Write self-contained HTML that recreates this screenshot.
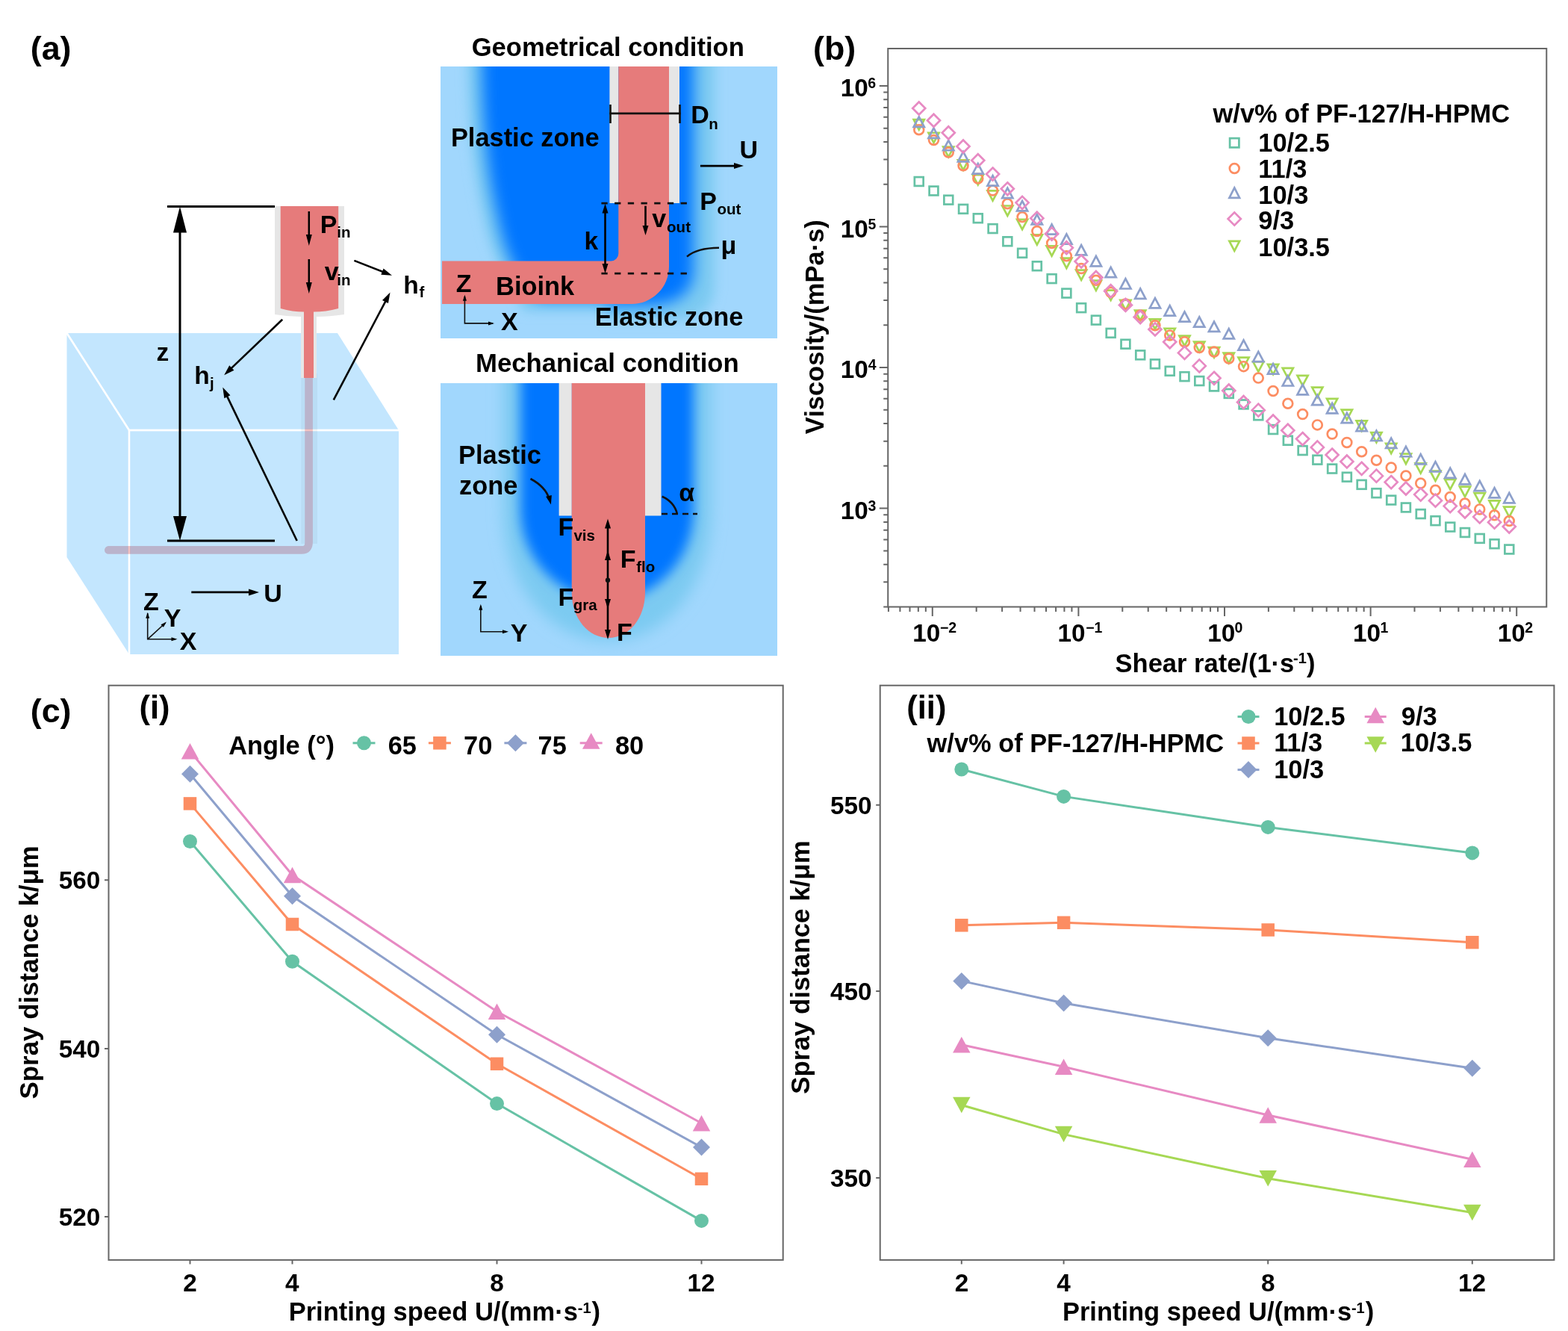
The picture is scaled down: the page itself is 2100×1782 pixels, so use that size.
<!DOCTYPE html>
<html><head><meta charset="utf-8"><title>Figure</title><style>html,body{margin:0;padding:0;background:#fff;}svg{display:block;filter:blur(0.45px);}text{font-family:"Liberation Sans",Arial,Helvetica,sans-serif;font-weight:bold;}</style></head><body>
<svg xmlns="http://www.w3.org/2000/svg" width="2100" height="1782" viewBox="0 0 2100 1782">
<defs><filter id="b12" x="-30%" y="-30%" width="160%" height="160%"><feGaussianBlur stdDeviation="11"/></filter><filter id="b18" x="-30%" y="-30%" width="160%" height="160%"><feGaussianBlur stdDeviation="18"/></filter><filter id="b6" x="-30%" y="-30%" width="160%" height="160%"><feGaussianBlur stdDeviation="6"/></filter><filter id="b8" x="-30%" y="-30%" width="160%" height="160%"><feGaussianBlur stdDeviation="8"/></filter><filter id="b10" x="-30%" y="-30%" width="160%" height="160%"><feGaussianBlur stdDeviation="10"/></filter><filter id="b1"><feGaussianBlur stdDeviation="0.7"/></filter><clipPath id="cg"><rect x="590" y="89" width="451" height="364"/></clipPath><clipPath id="cm"><rect x="590" y="513" width="451" height="365"/></clipPath></defs>
<rect width="2100" height="1782" fill="#fff"/>
<text x="40.76" y="79.58" font-size="44.8">(a)</text>
<rect x="403.3" y="500" width="21.7" height="228" fill="#e6e6e6"/>
<path d="M145.3,736.4 L404,736.4 Q413.6,736.4 413.6,726 L413.6,500" fill="none" stroke="#e67b7b" stroke-width="10.6" stroke-linecap="round"/>
<mask id="cubemask" maskUnits="userSpaceOnUse" x="0" y="0" width="2100" height="1782"><rect x="0" y="0" width="600" height="900" fill="#fff"/><g stroke="#000" stroke-width="2.4" fill="none"><polyline points="89.5,446 173,576 534,576"/><line x1="173" y1="576" x2="173" y2="876"/></g></mask>
<polygon points="89.5,446 452,446 534,576 534,876 173,876 89.5,746" fill="#9ed7fd" fill-opacity="0.62" mask="url(#cubemask)"/>
<g stroke="#fff" stroke-width="2.4" fill="none" opacity="0.55"><polyline points="89.5,446 173,576 534,576"/><line x1="173" y1="576" x2="173" y2="876"/></g>
<path d="M368,276 L461,276 L461,421 Q441,424 424,424 L424,506 L403,506 L403,424 Q386,424 368,421 Z" fill="#e6e6e6"/>
<path d="M375.7,276 L453.2,276 L453.2,413 Q436,417.6 420,417.6 L420,506 L407,506 L407,417.6 Q392,417.6 375.7,413 Z" fill="#e67b7b"/>
<line x1="224.00" y1="276.50" x2="368.00" y2="276.50" stroke="#000" stroke-width="3"/>
<line x1="224.00" y1="724.00" x2="368.00" y2="724.00" stroke="#000" stroke-width="3"/>
<line x1="241.00" y1="300.00" x2="241.00" y2="700.00" stroke="#000" stroke-width="3"/>
<polygon points="241.00,276.50 250.00,311.50 232.00,311.50" fill="#000"/>
<polygon points="241.00,724.00 232.00,691.00 250.00,691.00" fill="#000"/>
<line x1="413.80" y1="283.00" x2="413.80" y2="320.00" stroke="#000" stroke-width="2.5"/>
<polygon points="413.80,329.00 409.80,314.00 417.80,314.00" fill="#000"/>
<line x1="413.80" y1="347.00" x2="413.80" y2="384.00" stroke="#000" stroke-width="2.5"/>
<polygon points="413.80,393.00 409.80,378.00 417.80,378.00" fill="#000"/>
<line x1="474.40" y1="348.90" x2="517.18" y2="365.64" stroke="#000" stroke-width="2.6"/>
<polygon points="525.00,368.70 510.32,367.79 513.60,359.41" fill="#000"/>
<line x1="446.80" y1="535.40" x2="518.59" y2="399.03" stroke="#000" stroke-width="2.6"/>
<polygon points="522.50,391.60 519.96,406.08 512.00,401.89" fill="#000"/>
<line x1="378.20" y1="427.80" x2="306.28" y2="496.40" stroke="#000" stroke-width="2.6"/>
<polygon points="300.20,502.20 307.22,489.28 313.44,495.79" fill="#000"/>
<line x1="397.70" y1="724.00" x2="301.96" y2="526.16" stroke="#000" stroke-width="2.6"/>
<polygon points="298.30,518.60 308.45,529.24 300.35,533.16" fill="#000"/>
<text x="209.46" y="483.00" font-size="33.5" fill="#000">z</text>
<text x="260.35" y="513.80" font-size="33.5" fill="#000">h</text>
<text x="280.93" y="519.60" font-size="20.5" fill="#000">j</text>
<text x="428.72" y="311.90" font-size="34" fill="#000">P</text>
<text x="451.37" y="317.70" font-size="20.5" fill="#000">in</text>
<text x="434.86" y="375.30" font-size="34" fill="#000">v</text>
<text x="451.37" y="382.00" font-size="20.5" fill="#000">in</text>
<text x="540.36" y="392.60" font-size="33.5" fill="#000">h</text>
<text x="561.45" y="398.30" font-size="20.5" fill="#000">f</text>
<g stroke="#111" stroke-width="1.6" fill="none"><polyline points="197.7,821 197.7,855.8 235,855.8"/><line x1="197.7" y1="855.8" x2="221.5" y2="834"/></g>
<polygon points="197.70,819.70 200.20,827.70 195.20,827.70" fill="#000"/>
<polygon points="237.50,855.80 229.50,858.30 229.50,853.30" fill="#000"/>
<polygon points="223.00,832.50 218.87,839.80 215.45,836.15" fill="#000"/>
<text x="192.08" y="816.50" font-size="34" fill="#000">Z</text>
<text x="219.82" y="838.70" font-size="34" fill="#000">Y</text>
<text x="240.79" y="869.50" font-size="34" fill="#000">X</text>
<line x1="256.30" y1="792.90" x2="338.60" y2="792.90" stroke="#000" stroke-width="2.6"/>
<polygon points="347.00,792.90 333.00,797.40 333.00,788.40" fill="#000"/>
<text x="353.26" y="805.60" font-size="34" fill="#000">U</text>
<text x="631.73" y="74.50" font-size="34.6" fill="#000">Geometrical condition</text>
<g clip-path="url(#cg)">
<rect x="590" y="89" width="451" height="364" fill="#a1d7fd"/>
<path d="M626,40 L627,100 C629,170 634,230 648,290 C656,330 668,362 690,385 L700,416 H812 V428 H905 Q957,428 957,380 V40 Z" fill="#7ccaf1" filter="url(#b8)"/>
<path d="M644,40 L645,100 C647,170 652,230 666,290 C674,330 686,362 712,392 L722,400 H812 V409 H862 Q929,409 929,360 V40 Z" fill="#0076ff" filter="url(#b10)"/>
<rect x="816.4" y="80" width="11.9" height="192" fill="#e6e6e6"/>
<rect x="896" y="80" width="14" height="192" fill="#e6e6e6"/>
<path d="M828.3,80 L896,80 L896,357 A50,50 0 0 1 846,407 L592,407 L592,349.5 L818.3,349.5 A10,10 0 0 0 828.3,339.5 Z" fill="#e67b7b"/>
</g>
<g stroke="#111" stroke-width="2.8" stroke-dasharray="8.3,9.4"><line x1="805.4" y1="272.2" x2="929" y2="272.2"/><line x1="805.4" y1="366.2" x2="929" y2="366.2"/></g>
<line x1="810.50" y1="280.30" x2="810.50" y2="358.20" stroke="#000" stroke-width="2.6"/>
<polygon points="810.50,366.00 806.50,353.00 814.50,353.00" fill="#000"/>
<polygon points="810.50,272.50 814.50,285.50 806.50,285.50" fill="#000"/>
<g stroke="#111" stroke-width="2.6"><line x1="816.4" y1="151.9" x2="911.7" y2="151.9"/><line x1="817.5" y1="140" x2="817.5" y2="165"/><line x1="910.5" y1="140" x2="910.5" y2="165"/></g>
<line x1="937.90" y1="222.10" x2="988.20" y2="222.10" stroke="#000" stroke-width="2.6"/>
<polygon points="996.00,222.10 983.00,226.10 983.00,218.10" fill="#000"/>
<line x1="864.50" y1="275.70" x2="864.50" y2="307.20" stroke="#000" stroke-width="2.6"/>
<polygon points="864.50,315.00 860.50,302.00 868.50,302.00" fill="#000"/>
<path d="M920,343.6 Q933,332 963,331.7" fill="none" stroke="#111" stroke-width="2.6"/>
<g stroke="#111" stroke-width="1.6" fill="none"><polyline points="622.4,397 622.4,432.9 660,432.9"/></g>
<polygon points="622.40,394.80 624.90,402.80 619.90,402.80" fill="#000"/>
<polygon points="662.00,432.90 654.00,435.40 654.00,430.40" fill="#000"/>
<text x="603.90" y="196.40" font-size="34.4" fill="#000">Plastic zone</text>
<text x="925.22" y="165.40" font-size="34" fill="#000">D</text>
<text x="949.25" y="172.90" font-size="20.5" fill="#000">n</text>
<text x="990.46" y="212.00" font-size="34" fill="#000">U</text>
<text x="937.22" y="280.80" font-size="34" fill="#000">P</text>
<text x="960.40" y="287.30" font-size="20.5" fill="#000">out</text>
<text x="782.55" y="333.60" font-size="33.5" fill="#000">k</text>
<text x="873.26" y="304.30" font-size="34" fill="#000">v</text>
<text x="893.10" y="311.30" font-size="20.5" fill="#000">out</text>
<text x="965.62" y="340.10" font-size="34" fill="#000">μ</text>
<text x="610.68" y="391.20" font-size="34" fill="#000">Z</text>
<text x="664.10" y="394.80" font-size="34.4" fill="#000">Bioink</text>
<text x="670.89" y="442.40" font-size="34" fill="#000">X</text>
<text x="796.70" y="436.40" font-size="34.4" fill="#000">Elastic zone</text>
<text x="637.00" y="498.00" font-size="34.7" fill="#000">Mechanical condition</text>
<g clip-path="url(#cm)">
<rect x="590" y="513" width="451" height="365" fill="#a1d7fd"/>
<path d="M674,480 H953 V680 C953,790 888,858 815,858 C740,858 674,790 674,680 Z" fill="#7ccaf1" filter="url(#b10)"/>
<path d="M697,480 H929 V680 C929,755 874,802 815,806 C755,802 697,755 697,680 Z" fill="#0076ff" filter="url(#b8)"/>
<rect x="748.6" y="505" width="17.2" height="185.5" fill="#e6e6e6"/>
<rect x="864" y="505" width="21.5" height="185.5" fill="#e6e6e6"/>
<path d="M765.7,505 L864,505 L864,793 C864,828 842,854 815,854 C788,854 765.7,828 765.7,793 Z" fill="#e67b7b"/>
</g>
<line x1="814.00" y1="700.00" x2="814.00" y2="850.00" stroke="#000" stroke-width="2.6"/>
<polygon points="814.00,694.50 818.00,707.50 810.00,707.50" fill="#000"/>
<polygon points="814.00,737.00 818.00,750.00 810.00,750.00" fill="#000"/>
<circle cx="814" cy="776.7" r="3.2" fill="#111"/>
<polygon points="814.00,815.00 810.00,802.00 818.00,802.00" fill="#000"/>
<polygon points="814.00,856.00 810.00,843.00 818.00,843.00" fill="#000"/>
<path d="M886.7,664.8 Q903,672 906.9,688" fill="none" stroke="#111" stroke-width="2.6"/>
<line x1="886" y1="688" x2="934" y2="688" stroke="#111" stroke-width="2.6" stroke-dasharray="8,6"/>
<path d="M710.5,641 Q731,652 735.5,668" fill="none" stroke="#111" stroke-width="2.6"/>
<polygon points="737.90,675.50 731.09,664.84 738.85,662.89" fill="#000"/>
<g stroke="#111" stroke-width="1.6" fill="none"><polyline points="643.8,811 643.8,845.7 678,845.7"/></g>
<polygon points="643.80,808.80 646.30,816.80 641.30,816.80" fill="#000"/>
<polygon points="681.00,845.70 673.00,848.20 673.00,843.20" fill="#000"/>
<text x="614.10" y="620.70" font-size="34.4" fill="#000">Plastic</text>
<text x="615.02" y="662.40" font-size="34.4" fill="#000">zone</text>
<text x="909.17" y="670.70" font-size="34" fill="#000">α</text>
<text x="747.52" y="716.70" font-size="34" fill="#000">F</text>
<text x="768.42" y="723.80" font-size="20.5" fill="#000">vis</text>
<text x="830.72" y="759.50" font-size="34" fill="#000">F</text>
<text x="852.15" y="765.50" font-size="20.5" fill="#000">flo</text>
<text x="747.52" y="811.20" font-size="34" fill="#000">F</text>
<text x="767.66" y="817.00" font-size="20.5" fill="#000">gra</text>
<text x="826.02" y="857.60" font-size="34" fill="#000">F</text>
<text x="631.98" y="800.50" font-size="34" fill="#000">Z</text>
<text x="683.72" y="858.80" font-size="34" fill="#000">Y</text>
<text x="1089.06" y="79.98" font-size="44.8">(b)</text>
<path d="M1183.25,812.41H1189.25M1183.25,779.21H1189.25M1183.25,755.65H1189.25M1183.25,737.38H1189.25M1183.25,722.44H1189.25M1183.25,709.82H1189.25M1183.25,698.88H1189.25M1183.25,689.24H1189.25M1177.75,680.61H1189.25M1183.25,623.84H1189.25M1183.25,590.64H1189.25M1183.25,567.08H1189.25M1183.25,548.81H1189.25M1183.25,533.87H1189.25M1183.25,521.25H1189.25M1183.25,510.31H1189.25M1183.25,500.67H1189.25M1177.75,492.04H1189.25M1183.25,435.27H1189.25M1183.25,402.07H1189.25M1183.25,378.51H1189.25M1183.25,360.24H1189.25M1183.25,345.30H1189.25M1183.25,332.68H1189.25M1183.25,321.74H1189.25M1183.25,312.10H1189.25M1177.75,303.47H1189.25M1183.25,246.70H1189.25M1183.25,213.50H1189.25M1183.25,189.94H1189.25M1183.25,171.67H1189.25M1183.25,156.73H1189.25M1183.25,144.11H1189.25M1183.25,133.17H1189.25M1183.25,123.53H1189.25M1177.75,114.90H1189.25M1189.92,812.5V819.00M1205.41,812.5V819.00M1218.50,812.5V819.00M1229.84,812.5V819.00M1239.85,812.5V819.00M1248.80,812.5V825.00M1307.68,812.5V819.00M1342.12,812.5V819.00M1366.56,812.5V819.00M1385.52,812.5V819.00M1401.01,812.5V819.00M1414.10,812.5V819.00M1425.44,812.5V819.00M1435.45,812.5V819.00M1444.40,812.5V825.00M1503.28,812.5V819.00M1537.72,812.5V819.00M1562.16,812.5V819.00M1581.12,812.5V819.00M1596.61,812.5V819.00M1609.70,812.5V819.00M1621.04,812.5V819.00M1631.05,812.5V819.00M1640.00,812.5V825.00M1698.88,812.5V819.00M1733.32,812.5V819.00M1757.76,812.5V819.00M1776.72,812.5V819.00M1792.21,812.5V819.00M1805.30,812.5V819.00M1816.64,812.5V819.00M1826.65,812.5V819.00M1835.60,812.5V825.00M1894.48,812.5V819.00M1928.92,812.5V819.00M1953.36,812.5V819.00M1972.32,812.5V819.00M1987.81,812.5V819.00M2000.90,812.5V819.00M2012.24,812.5V819.00M2022.25,812.5V819.00M2031.20,812.5V825.00" stroke="#666666" stroke-width="2" fill="none"/>
<rect x="1189.25" y="65" width="882.0" height="747.5" fill="none" stroke="#666666" stroke-width="2"/>
<text x="1125.84" y="129.20" font-size="33.3">10</text>
<text x="1162.28" y="118.20" font-size="19.5" fill="#000">6</text>
<text x="1125.84" y="317.77" font-size="33.3">10</text>
<text x="1162.40" y="306.77" font-size="19.5" fill="#000">5</text>
<text x="1125.84" y="506.34" font-size="33.3">10</text>
<text x="1162.71" y="495.34" font-size="19.5" fill="#000">4</text>
<text x="1125.84" y="694.91" font-size="33.3">10</text>
<text x="1162.55" y="683.91" font-size="19.5" fill="#000">3</text>
<text x="1222.24" y="859.10" font-size="33.3">10</text>
<text x="1258.90" y="846.90" font-size="19.5" fill="#000">−2</text>
<text x="1416.54" y="859.10" font-size="33.3">10</text>
<text x="1454.20" y="846.90" font-size="19.5" fill="#000">−1</text>
<text x="1617.34" y="859.10" font-size="33.3">10</text>
<text x="1653.42" y="846.90" font-size="19.5" fill="#000">0</text>
<text x="1811.94" y="859.10" font-size="33.3">10</text>
<text x="1848.57" y="846.90" font-size="19.5" fill="#000">1</text>
<text x="2005.84" y="859.10" font-size="33.3">10</text>
<text x="2042.32" y="846.90" font-size="19.5" fill="#000">2</text>
<text transform="translate(1102.60,581.24) rotate(-90)" x="0" y="0" font-size="34.5">Viscosity/(mPa·s)</text>
<text x="1493.60" y="899.80" font-size="34.5">Shear rate/(1·s</text>
<text x="1732.11" y="888.00" font-size="20">-1</text>
<text x="1750.10" y="899.80" font-size="34.5">)</text>
<g><rect x="1224.85" y="237.10" width="11.80" height="11.80" fill="none" stroke="#66c2a5" stroke-width="2.7"/><rect x="1244.61" y="249.61" width="11.80" height="11.80" fill="none" stroke="#66c2a5" stroke-width="2.7"/><rect x="1264.38" y="261.77" width="11.80" height="11.80" fill="none" stroke="#66c2a5" stroke-width="2.7"/><rect x="1284.14" y="273.94" width="11.80" height="11.80" fill="none" stroke="#66c2a5" stroke-width="2.7"/><rect x="1303.90" y="286.31" width="11.80" height="11.80" fill="none" stroke="#66c2a5" stroke-width="2.7"/><rect x="1323.66" y="300.16" width="11.80" height="11.80" fill="none" stroke="#66c2a5" stroke-width="2.7"/><rect x="1343.43" y="317.36" width="11.80" height="11.80" fill="none" stroke="#66c2a5" stroke-width="2.7"/><rect x="1363.19" y="332.93" width="11.80" height="11.80" fill="none" stroke="#66c2a5" stroke-width="2.7"/><rect x="1382.95" y="350.33" width="11.80" height="11.80" fill="none" stroke="#66c2a5" stroke-width="2.7"/><rect x="1402.72" y="367.21" width="11.80" height="11.80" fill="none" stroke="#66c2a5" stroke-width="2.7"/><rect x="1422.48" y="386.68" width="11.80" height="11.80" fill="none" stroke="#66c2a5" stroke-width="2.7"/><rect x="1442.24" y="406.24" width="11.80" height="11.80" fill="none" stroke="#66c2a5" stroke-width="2.7"/><rect x="1462.01" y="422.71" width="11.80" height="11.80" fill="none" stroke="#66c2a5" stroke-width="2.7"/><rect x="1481.77" y="439.99" width="11.80" height="11.80" fill="none" stroke="#66c2a5" stroke-width="2.7"/><rect x="1501.53" y="454.82" width="11.80" height="11.80" fill="none" stroke="#66c2a5" stroke-width="2.7"/><rect x="1521.30" y="469.42" width="11.80" height="11.80" fill="none" stroke="#66c2a5" stroke-width="2.7"/><rect x="1541.06" y="481.38" width="11.80" height="11.80" fill="none" stroke="#66c2a5" stroke-width="2.7"/><rect x="1560.82" y="490.91" width="11.80" height="11.80" fill="none" stroke="#66c2a5" stroke-width="2.7"/><rect x="1580.58" y="498.26" width="11.80" height="11.80" fill="none" stroke="#66c2a5" stroke-width="2.7"/><rect x="1600.35" y="504.12" width="11.80" height="11.80" fill="none" stroke="#66c2a5" stroke-width="2.7"/><rect x="1620.11" y="511.57" width="11.80" height="11.80" fill="none" stroke="#66c2a5" stroke-width="2.7"/><rect x="1639.87" y="520.99" width="11.80" height="11.80" fill="none" stroke="#66c2a5" stroke-width="2.7"/><rect x="1659.64" y="535.50" width="11.80" height="11.80" fill="none" stroke="#66c2a5" stroke-width="2.7"/><rect x="1679.40" y="550.38" width="11.80" height="11.80" fill="none" stroke="#66c2a5" stroke-width="2.7"/><rect x="1699.16" y="569.15" width="11.80" height="11.80" fill="none" stroke="#66c2a5" stroke-width="2.7"/><rect x="1718.92" y="583.82" width="11.80" height="11.80" fill="none" stroke="#66c2a5" stroke-width="2.7"/><rect x="1738.69" y="597.16" width="11.80" height="11.80" fill="none" stroke="#66c2a5" stroke-width="2.7"/><rect x="1758.45" y="609.76" width="11.80" height="11.80" fill="none" stroke="#66c2a5" stroke-width="2.7"/><rect x="1778.21" y="621.66" width="11.80" height="11.80" fill="none" stroke="#66c2a5" stroke-width="2.7"/><rect x="1797.98" y="632.78" width="11.80" height="11.80" fill="none" stroke="#66c2a5" stroke-width="2.7"/><rect x="1817.74" y="642.92" width="11.80" height="11.80" fill="none" stroke="#66c2a5" stroke-width="2.7"/><rect x="1837.50" y="654.29" width="11.80" height="11.80" fill="none" stroke="#66c2a5" stroke-width="2.7"/><rect x="1857.27" y="663.68" width="11.80" height="11.80" fill="none" stroke="#66c2a5" stroke-width="2.7"/><rect x="1877.03" y="673.56" width="11.80" height="11.80" fill="none" stroke="#66c2a5" stroke-width="2.7"/><rect x="1896.79" y="682.19" width="11.80" height="11.80" fill="none" stroke="#66c2a5" stroke-width="2.7"/><rect x="1916.55" y="691.29" width="11.80" height="11.80" fill="none" stroke="#66c2a5" stroke-width="2.7"/><rect x="1936.32" y="699.68" width="11.80" height="11.80" fill="none" stroke="#66c2a5" stroke-width="2.7"/><rect x="1956.08" y="707.09" width="11.80" height="11.80" fill="none" stroke="#66c2a5" stroke-width="2.7"/><rect x="1975.84" y="715.00" width="11.80" height="11.80" fill="none" stroke="#66c2a5" stroke-width="2.7"/><rect x="1995.61" y="722.29" width="11.80" height="11.80" fill="none" stroke="#66c2a5" stroke-width="2.7"/><rect x="2015.37" y="729.60" width="11.80" height="11.80" fill="none" stroke="#66c2a5" stroke-width="2.7"/><polygon points="1230.75,173.57 1237.83,160.22 1223.67,160.22" fill="none" stroke="#a6d854" stroke-width="2.7" stroke-linejoin="miter"/><polygon points="1250.51,191.08 1257.59,177.73 1243.44,177.73" fill="none" stroke="#a6d854" stroke-width="2.7" stroke-linejoin="miter"/><polygon points="1270.28,210.06 1277.35,196.71 1263.20,196.71" fill="none" stroke="#a6d854" stroke-width="2.7" stroke-linejoin="miter"/><polygon points="1290.04,227.61 1297.12,214.25 1282.96,214.25" fill="none" stroke="#a6d854" stroke-width="2.7" stroke-linejoin="miter"/><polygon points="1309.80,247.39 1316.88,234.04 1302.72,234.04" fill="none" stroke="#a6d854" stroke-width="2.7" stroke-linejoin="miter"/><polygon points="1329.57,268.64 1336.64,255.28 1322.49,255.28" fill="none" stroke="#a6d854" stroke-width="2.7" stroke-linejoin="miter"/><polygon points="1349.33,288.87 1356.40,275.52 1342.25,275.52" fill="none" stroke="#a6d854" stroke-width="2.7" stroke-linejoin="miter"/><polygon points="1369.09,307.17 1376.17,293.81 1362.01,293.81" fill="none" stroke="#a6d854" stroke-width="2.7" stroke-linejoin="miter"/><polygon points="1388.85,327.71 1395.93,314.36 1381.78,314.36" fill="none" stroke="#a6d854" stroke-width="2.7" stroke-linejoin="miter"/><polygon points="1408.62,342.58 1415.69,329.23 1401.54,329.23" fill="none" stroke="#a6d854" stroke-width="2.7" stroke-linejoin="miter"/><polygon points="1428.38,359.05 1435.46,345.70 1421.30,345.70" fill="none" stroke="#a6d854" stroke-width="2.7" stroke-linejoin="miter"/><polygon points="1448.14,374.94 1455.22,361.59 1441.07,361.59" fill="none" stroke="#a6d854" stroke-width="2.7" stroke-linejoin="miter"/><polygon points="1467.91,388.97 1474.98,375.62 1460.83,375.62" fill="none" stroke="#a6d854" stroke-width="2.7" stroke-linejoin="miter"/><polygon points="1487.67,401.98 1494.75,388.63 1480.59,388.63" fill="none" stroke="#a6d854" stroke-width="2.7" stroke-linejoin="miter"/><polygon points="1507.43,415.09 1514.51,401.74 1500.36,401.74" fill="none" stroke="#a6d854" stroke-width="2.7" stroke-linejoin="miter"/><polygon points="1527.20,429.00 1534.27,415.64 1520.12,415.64" fill="none" stroke="#a6d854" stroke-width="2.7" stroke-linejoin="miter"/><polygon points="1546.96,440.67 1554.04,427.31 1539.88,427.31" fill="none" stroke="#a6d854" stroke-width="2.7" stroke-linejoin="miter"/><polygon points="1566.72,453.08 1573.80,439.73 1559.64,439.73" fill="none" stroke="#a6d854" stroke-width="2.7" stroke-linejoin="miter"/><polygon points="1586.48,463.01 1593.56,449.66 1579.41,449.66" fill="none" stroke="#a6d854" stroke-width="2.7" stroke-linejoin="miter"/><polygon points="1606.25,470.97 1613.32,457.61 1599.17,457.61" fill="none" stroke="#a6d854" stroke-width="2.7" stroke-linejoin="miter"/><polygon points="1626.01,478.54 1633.09,465.18 1618.93,465.18" fill="none" stroke="#a6d854" stroke-width="2.7" stroke-linejoin="miter"/><polygon points="1645.77,486.02 1652.85,472.67 1638.70,472.67" fill="none" stroke="#a6d854" stroke-width="2.7" stroke-linejoin="miter"/><polygon points="1665.54,491.88 1672.61,478.53 1658.46,478.53" fill="none" stroke="#a6d854" stroke-width="2.7" stroke-linejoin="miter"/><polygon points="1685.30,497.74 1692.38,484.39 1678.22,484.39" fill="none" stroke="#a6d854" stroke-width="2.7" stroke-linejoin="miter"/><polygon points="1705.06,501.23 1712.14,487.87 1697.98,487.87" fill="none" stroke="#a6d854" stroke-width="2.7" stroke-linejoin="miter"/><polygon points="1724.83,506.23 1731.90,492.88 1717.75,492.88" fill="none" stroke="#a6d854" stroke-width="2.7" stroke-linejoin="miter"/><polygon points="1744.59,516.14 1751.67,502.79 1737.51,502.79" fill="none" stroke="#a6d854" stroke-width="2.7" stroke-linejoin="miter"/><polygon points="1764.35,531.95 1771.43,518.60 1757.27,518.60" fill="none" stroke="#a6d854" stroke-width="2.7" stroke-linejoin="miter"/><polygon points="1784.11,547.16 1791.19,533.80 1777.04,533.80" fill="none" stroke="#a6d854" stroke-width="2.7" stroke-linejoin="miter"/><polygon points="1803.88,561.98 1810.95,548.62 1796.80,548.62" fill="none" stroke="#a6d854" stroke-width="2.7" stroke-linejoin="miter"/><polygon points="1823.64,576.80 1830.72,563.45 1816.56,563.45" fill="none" stroke="#a6d854" stroke-width="2.7" stroke-linejoin="miter"/><polygon points="1843.40,592.37 1850.48,579.02 1836.33,579.02" fill="none" stroke="#a6d854" stroke-width="2.7" stroke-linejoin="miter"/><polygon points="1863.17,607.19 1870.24,593.83 1856.09,593.83" fill="none" stroke="#a6d854" stroke-width="2.7" stroke-linejoin="miter"/><polygon points="1882.93,621.02 1890.01,607.67 1875.85,607.67" fill="none" stroke="#a6d854" stroke-width="2.7" stroke-linejoin="miter"/><polygon points="1902.69,633.67 1909.77,620.31 1895.62,620.31" fill="none" stroke="#a6d854" stroke-width="2.7" stroke-linejoin="miter"/><polygon points="1922.45,643.83 1929.53,630.48 1915.38,630.48" fill="none" stroke="#a6d854" stroke-width="2.7" stroke-linejoin="miter"/><polygon points="1942.22,655.18 1949.30,641.82 1935.14,641.82" fill="none" stroke="#a6d854" stroke-width="2.7" stroke-linejoin="miter"/><polygon points="1961.98,665.06 1969.06,651.71 1954.90,651.71" fill="none" stroke="#a6d854" stroke-width="2.7" stroke-linejoin="miter"/><polygon points="1981.74,673.46 1988.82,660.11 1974.67,660.11" fill="none" stroke="#a6d854" stroke-width="2.7" stroke-linejoin="miter"/><polygon points="2001.51,683.79 2008.58,670.43 1994.43,670.43" fill="none" stroke="#a6d854" stroke-width="2.7" stroke-linejoin="miter"/><polygon points="2021.27,692.07 2028.35,678.72 2014.19,678.72" fill="none" stroke="#a6d854" stroke-width="2.7" stroke-linejoin="miter"/><circle cx="1230.75" cy="173.75" r="6.40" fill="none" stroke="#fc8d62" stroke-width="2.7"/><circle cx="1250.51" cy="187.51" r="6.40" fill="none" stroke="#fc8d62" stroke-width="2.7"/><circle cx="1270.28" cy="204.00" r="6.40" fill="none" stroke="#fc8d62" stroke-width="2.7"/><circle cx="1290.04" cy="221.72" r="6.40" fill="none" stroke="#fc8d62" stroke-width="2.7"/><circle cx="1309.80" cy="239.00" r="6.40" fill="none" stroke="#fc8d62" stroke-width="2.7"/><circle cx="1329.57" cy="255.06" r="6.40" fill="none" stroke="#fc8d62" stroke-width="2.7"/><circle cx="1349.33" cy="272.80" r="6.40" fill="none" stroke="#fc8d62" stroke-width="2.7"/><circle cx="1369.09" cy="290.59" r="6.40" fill="none" stroke="#fc8d62" stroke-width="2.7"/><circle cx="1388.85" cy="309.44" r="6.40" fill="none" stroke="#fc8d62" stroke-width="2.7"/><circle cx="1408.62" cy="325.54" r="6.40" fill="none" stroke="#fc8d62" stroke-width="2.7"/><circle cx="1428.38" cy="342.78" r="6.40" fill="none" stroke="#fc8d62" stroke-width="2.7"/><circle cx="1448.14" cy="359.57" r="6.40" fill="none" stroke="#fc8d62" stroke-width="2.7"/><circle cx="1467.91" cy="375.20" r="6.40" fill="none" stroke="#fc8d62" stroke-width="2.7"/><circle cx="1487.67" cy="391.29" r="6.40" fill="none" stroke="#fc8d62" stroke-width="2.7"/><circle cx="1507.43" cy="406.92" r="6.40" fill="none" stroke="#fc8d62" stroke-width="2.7"/><circle cx="1527.20" cy="421.92" r="6.40" fill="none" stroke="#fc8d62" stroke-width="2.7"/><circle cx="1546.96" cy="435.71" r="6.40" fill="none" stroke="#fc8d62" stroke-width="2.7"/><circle cx="1566.72" cy="448.91" r="6.40" fill="none" stroke="#fc8d62" stroke-width="2.7"/><circle cx="1586.48" cy="457.65" r="6.40" fill="none" stroke="#fc8d62" stroke-width="2.7"/><circle cx="1606.25" cy="465.40" r="6.40" fill="none" stroke="#fc8d62" stroke-width="2.7"/><circle cx="1626.01" cy="470.97" r="6.40" fill="none" stroke="#fc8d62" stroke-width="2.7"/><circle cx="1645.77" cy="479.94" r="6.40" fill="none" stroke="#fc8d62" stroke-width="2.7"/><circle cx="1665.54" cy="490.63" r="6.40" fill="none" stroke="#fc8d62" stroke-width="2.7"/><circle cx="1685.30" cy="506.12" r="6.40" fill="none" stroke="#fc8d62" stroke-width="2.7"/><circle cx="1705.06" cy="523.49" r="6.40" fill="none" stroke="#fc8d62" stroke-width="2.7"/><circle cx="1724.83" cy="540.24" r="6.40" fill="none" stroke="#fc8d62" stroke-width="2.7"/><circle cx="1744.59" cy="554.56" r="6.40" fill="none" stroke="#fc8d62" stroke-width="2.7"/><circle cx="1764.35" cy="568.89" r="6.40" fill="none" stroke="#fc8d62" stroke-width="2.7"/><circle cx="1784.11" cy="581.07" r="6.40" fill="none" stroke="#fc8d62" stroke-width="2.7"/><circle cx="1803.88" cy="592.43" r="6.40" fill="none" stroke="#fc8d62" stroke-width="2.7"/><circle cx="1823.64" cy="604.78" r="6.40" fill="none" stroke="#fc8d62" stroke-width="2.7"/><circle cx="1843.40" cy="616.20" r="6.40" fill="none" stroke="#fc8d62" stroke-width="2.7"/><circle cx="1863.17" cy="626.09" r="6.40" fill="none" stroke="#fc8d62" stroke-width="2.7"/><circle cx="1882.93" cy="636.96" r="6.40" fill="none" stroke="#fc8d62" stroke-width="2.7"/><circle cx="1902.69" cy="647.09" r="6.40" fill="none" stroke="#fc8d62" stroke-width="2.7"/><circle cx="1922.45" cy="656.22" r="6.40" fill="none" stroke="#fc8d62" stroke-width="2.7"/><circle cx="1942.22" cy="665.59" r="6.40" fill="none" stroke="#fc8d62" stroke-width="2.7"/><circle cx="1961.98" cy="673.99" r="6.40" fill="none" stroke="#fc8d62" stroke-width="2.7"/><circle cx="1981.74" cy="681.90" r="6.40" fill="none" stroke="#fc8d62" stroke-width="2.7"/><circle cx="2001.51" cy="689.70" r="6.40" fill="none" stroke="#fc8d62" stroke-width="2.7"/><circle cx="2021.27" cy="697.50" r="6.40" fill="none" stroke="#fc8d62" stroke-width="2.7"/><polygon points="1230.75,156.43 1237.83,169.78 1223.67,169.78" fill="none" stroke="#8da0cb" stroke-width="2.7" stroke-linejoin="miter"/><polygon points="1250.51,171.44 1257.59,184.80 1243.44,184.80" fill="none" stroke="#8da0cb" stroke-width="2.7" stroke-linejoin="miter"/><polygon points="1270.28,187.89 1277.35,201.25 1263.20,201.25" fill="none" stroke="#8da0cb" stroke-width="2.7" stroke-linejoin="miter"/><polygon points="1290.04,203.12 1297.12,216.47 1282.96,216.47" fill="none" stroke="#8da0cb" stroke-width="2.7" stroke-linejoin="miter"/><polygon points="1309.80,219.18 1316.88,232.53 1302.72,232.53" fill="none" stroke="#8da0cb" stroke-width="2.7" stroke-linejoin="miter"/><polygon points="1329.57,235.23 1336.64,248.59 1322.49,248.59" fill="none" stroke="#8da0cb" stroke-width="2.7" stroke-linejoin="miter"/><polygon points="1349.33,251.72 1356.40,265.07 1342.25,265.07" fill="none" stroke="#8da0cb" stroke-width="2.7" stroke-linejoin="miter"/><polygon points="1369.09,269.01 1376.17,282.37 1362.01,282.37" fill="none" stroke="#8da0cb" stroke-width="2.7" stroke-linejoin="miter"/><polygon points="1388.85,287.01 1395.93,300.36 1381.78,300.36" fill="none" stroke="#8da0cb" stroke-width="2.7" stroke-linejoin="miter"/><polygon points="1408.62,300.34 1415.69,313.69 1401.54,313.69" fill="none" stroke="#8da0cb" stroke-width="2.7" stroke-linejoin="miter"/><polygon points="1428.38,313.42 1435.46,326.77 1421.30,326.77" fill="none" stroke="#8da0cb" stroke-width="2.7" stroke-linejoin="miter"/><polygon points="1448.14,328.01 1455.22,341.37 1441.07,341.37" fill="none" stroke="#8da0cb" stroke-width="2.7" stroke-linejoin="miter"/><polygon points="1467.91,342.93 1474.98,356.29 1460.83,356.29" fill="none" stroke="#8da0cb" stroke-width="2.7" stroke-linejoin="miter"/><polygon points="1487.67,357.83 1494.75,371.19 1480.59,371.19" fill="none" stroke="#8da0cb" stroke-width="2.7" stroke-linejoin="miter"/><polygon points="1507.43,373.15 1514.51,386.51 1500.36,386.51" fill="none" stroke="#8da0cb" stroke-width="2.7" stroke-linejoin="miter"/><polygon points="1527.20,386.46 1534.27,399.81 1520.12,399.81" fill="none" stroke="#8da0cb" stroke-width="2.7" stroke-linejoin="miter"/><polygon points="1546.96,399.01 1554.04,412.37 1539.88,412.37" fill="none" stroke="#8da0cb" stroke-width="2.7" stroke-linejoin="miter"/><polygon points="1566.72,409.24 1573.80,422.59 1559.64,422.59" fill="none" stroke="#8da0cb" stroke-width="2.7" stroke-linejoin="miter"/><polygon points="1586.48,417.28 1593.56,430.64 1579.41,430.64" fill="none" stroke="#8da0cb" stroke-width="2.7" stroke-linejoin="miter"/><polygon points="1606.25,424.34 1613.32,437.69 1599.17,437.69" fill="none" stroke="#8da0cb" stroke-width="2.7" stroke-linejoin="miter"/><polygon points="1626.01,430.60 1633.09,443.96 1618.93,443.96" fill="none" stroke="#8da0cb" stroke-width="2.7" stroke-linejoin="miter"/><polygon points="1645.77,440.07 1652.85,453.42 1638.70,453.42" fill="none" stroke="#8da0cb" stroke-width="2.7" stroke-linejoin="miter"/><polygon points="1665.54,455.36 1672.61,468.71 1658.46,468.71" fill="none" stroke="#8da0cb" stroke-width="2.7" stroke-linejoin="miter"/><polygon points="1685.30,470.85 1692.38,484.21 1678.22,484.21" fill="none" stroke="#8da0cb" stroke-width="2.7" stroke-linejoin="miter"/><polygon points="1705.06,487.23 1712.14,500.59 1697.98,500.59" fill="none" stroke="#8da0cb" stroke-width="2.7" stroke-linejoin="miter"/><polygon points="1724.83,503.13 1731.90,516.48 1717.75,516.48" fill="none" stroke="#8da0cb" stroke-width="2.7" stroke-linejoin="miter"/><polygon points="1744.59,514.99 1751.67,528.35 1737.51,528.35" fill="none" stroke="#8da0cb" stroke-width="2.7" stroke-linejoin="miter"/><polygon points="1764.35,528.83 1771.43,542.18 1757.27,542.18" fill="none" stroke="#8da0cb" stroke-width="2.7" stroke-linejoin="miter"/><polygon points="1784.11,540.00 1791.19,553.36 1777.04,553.36" fill="none" stroke="#8da0cb" stroke-width="2.7" stroke-linejoin="miter"/><polygon points="1803.88,552.85 1810.95,566.21 1796.80,566.21" fill="none" stroke="#8da0cb" stroke-width="2.7" stroke-linejoin="miter"/><polygon points="1823.64,563.73 1830.72,577.09 1816.56,577.09" fill="none" stroke="#8da0cb" stroke-width="2.7" stroke-linejoin="miter"/><polygon points="1843.40,576.63 1850.48,589.99 1836.33,589.99" fill="none" stroke="#8da0cb" stroke-width="2.7" stroke-linejoin="miter"/><polygon points="1863.17,586.53 1870.24,599.88 1856.09,599.88" fill="none" stroke="#8da0cb" stroke-width="2.7" stroke-linejoin="miter"/><polygon points="1882.93,597.89 1890.01,611.24 1875.85,611.24" fill="none" stroke="#8da0cb" stroke-width="2.7" stroke-linejoin="miter"/><polygon points="1902.69,608.03 1909.77,621.38 1895.62,621.38" fill="none" stroke="#8da0cb" stroke-width="2.7" stroke-linejoin="miter"/><polygon points="1922.45,618.12 1929.53,631.48 1915.38,631.48" fill="none" stroke="#8da0cb" stroke-width="2.7" stroke-linejoin="miter"/><polygon points="1942.22,626.52 1949.30,639.88 1935.14,639.88" fill="none" stroke="#8da0cb" stroke-width="2.7" stroke-linejoin="miter"/><polygon points="1961.98,634.92 1969.06,648.28 1954.90,648.28" fill="none" stroke="#8da0cb" stroke-width="2.7" stroke-linejoin="miter"/><polygon points="1981.74,643.81 1988.82,657.17 1974.67,657.17" fill="none" stroke="#8da0cb" stroke-width="2.7" stroke-linejoin="miter"/><polygon points="2001.51,653.11 2008.58,666.46 1994.43,666.46" fill="none" stroke="#8da0cb" stroke-width="2.7" stroke-linejoin="miter"/><polygon points="2021.27,659.93 2028.35,673.28 2014.19,673.28" fill="none" stroke="#8da0cb" stroke-width="2.7" stroke-linejoin="miter"/><polygon points="1230.75,136.49 1239.26,145.00 1230.75,153.51 1222.24,145.00" fill="none" stroke="#e78ac3" stroke-width="2.7"/><polygon points="1250.51,152.75 1259.02,161.26 1250.51,169.77 1242.00,161.26" fill="none" stroke="#e78ac3" stroke-width="2.7"/><polygon points="1270.28,169.24 1278.79,177.75 1270.28,186.26 1261.77,177.75" fill="none" stroke="#e78ac3" stroke-width="2.7"/><polygon points="1290.04,187.50 1298.55,196.01 1290.04,204.52 1281.53,196.01" fill="none" stroke="#e78ac3" stroke-width="2.7"/><polygon points="1309.80,206.27 1318.31,214.78 1309.80,223.29 1301.29,214.78" fill="none" stroke="#e78ac3" stroke-width="2.7"/><polygon points="1329.57,224.56 1338.08,233.07 1329.57,241.58 1321.06,233.07" fill="none" stroke="#e78ac3" stroke-width="2.7"/><polygon points="1349.33,244.30 1357.84,252.81 1349.33,261.32 1340.82,252.81" fill="none" stroke="#e78ac3" stroke-width="2.7"/><polygon points="1369.09,262.84 1377.60,271.35 1369.09,279.86 1360.58,271.35" fill="none" stroke="#e78ac3" stroke-width="2.7"/><polygon points="1388.85,283.65 1397.36,292.16 1388.85,300.67 1380.34,292.16" fill="none" stroke="#e78ac3" stroke-width="2.7"/><polygon points="1408.62,304.57 1417.13,313.08 1408.62,321.59 1400.11,313.08" fill="none" stroke="#e78ac3" stroke-width="2.7"/><polygon points="1428.38,323.17 1436.89,331.68 1428.38,340.19 1419.87,331.68" fill="none" stroke="#e78ac3" stroke-width="2.7"/><polygon points="1448.14,341.44 1456.65,349.95 1448.14,358.46 1439.63,349.95" fill="none" stroke="#e78ac3" stroke-width="2.7"/><polygon points="1467.91,363.00 1476.42,371.51 1467.91,380.02 1459.40,371.51" fill="none" stroke="#e78ac3" stroke-width="2.7"/><polygon points="1487.67,381.27 1496.18,389.78 1487.67,398.29 1479.16,389.78" fill="none" stroke="#e78ac3" stroke-width="2.7"/><polygon points="1507.43,399.92 1515.94,408.43 1507.43,416.94 1498.92,408.43" fill="none" stroke="#e78ac3" stroke-width="2.7"/><polygon points="1527.20,416.00 1535.71,424.51 1527.20,433.02 1518.69,424.51" fill="none" stroke="#e78ac3" stroke-width="2.7"/><polygon points="1546.96,432.42 1555.47,440.93 1546.96,449.44 1538.45,440.93" fill="none" stroke="#e78ac3" stroke-width="2.7"/><polygon points="1566.72,449.21 1575.23,457.72 1566.72,466.23 1558.21,457.72" fill="none" stroke="#e78ac3" stroke-width="2.7"/><polygon points="1586.48,463.90 1594.99,472.41 1586.48,480.92 1577.97,472.41" fill="none" stroke="#e78ac3" stroke-width="2.7"/><polygon points="1606.25,481.37 1614.76,489.88 1606.25,498.39 1597.74,489.88" fill="none" stroke="#e78ac3" stroke-width="2.7"/><polygon points="1626.01,497.82 1634.52,506.33 1626.01,514.84 1617.50,506.33" fill="none" stroke="#e78ac3" stroke-width="2.7"/><polygon points="1645.77,514.50 1654.28,523.01 1645.77,531.52 1637.26,523.01" fill="none" stroke="#e78ac3" stroke-width="2.7"/><polygon points="1665.54,530.01 1674.05,538.52 1665.54,547.03 1657.03,538.52" fill="none" stroke="#e78ac3" stroke-width="2.7"/><polygon points="1685.30,540.64 1693.81,549.15 1685.30,557.66 1676.79,549.15" fill="none" stroke="#e78ac3" stroke-width="2.7"/><polygon points="1705.06,555.53 1713.57,564.04 1705.06,572.55 1696.55,564.04" fill="none" stroke="#e78ac3" stroke-width="2.7"/><polygon points="1724.83,567.68 1733.34,576.19 1724.83,584.70 1716.32,576.19" fill="none" stroke="#e78ac3" stroke-width="2.7"/><polygon points="1744.59,579.04 1753.10,587.55 1744.59,596.06 1736.08,587.55" fill="none" stroke="#e78ac3" stroke-width="2.7"/><polygon points="1764.35,590.40 1772.86,598.91 1764.35,607.42 1755.84,598.91" fill="none" stroke="#e78ac3" stroke-width="2.7"/><polygon points="1784.11,600.54 1792.62,609.05 1784.11,617.56 1775.60,609.05" fill="none" stroke="#e78ac3" stroke-width="2.7"/><polygon points="1803.88,609.43 1812.39,617.94 1803.88,626.45 1795.37,617.94" fill="none" stroke="#e78ac3" stroke-width="2.7"/><polygon points="1823.64,618.82 1832.15,627.33 1823.64,635.84 1815.13,627.33" fill="none" stroke="#e78ac3" stroke-width="2.7"/><polygon points="1843.40,628.66 1851.91,637.17 1843.40,645.68 1834.89,637.17" fill="none" stroke="#e78ac3" stroke-width="2.7"/><polygon points="1863.17,637.06 1871.68,645.57 1863.17,654.08 1854.66,645.57" fill="none" stroke="#e78ac3" stroke-width="2.7"/><polygon points="1882.93,645.46 1891.44,653.97 1882.93,662.48 1874.42,653.97" fill="none" stroke="#e78ac3" stroke-width="2.7"/><polygon points="1902.69,653.57 1911.20,662.08 1902.69,670.59 1894.18,662.08" fill="none" stroke="#e78ac3" stroke-width="2.7"/><polygon points="1922.45,661.66 1930.96,670.17 1922.45,678.68 1913.94,670.17" fill="none" stroke="#e78ac3" stroke-width="2.7"/><polygon points="1942.22,669.07 1950.73,677.58 1942.22,686.09 1933.71,677.58" fill="none" stroke="#e78ac3" stroke-width="2.7"/><polygon points="1961.98,676.48 1970.49,684.99 1961.98,693.50 1953.47,684.99" fill="none" stroke="#e78ac3" stroke-width="2.7"/><polygon points="1981.74,683.40 1990.25,691.91 1981.74,700.42 1973.23,691.91" fill="none" stroke="#e78ac3" stroke-width="2.7"/><polygon points="2001.51,690.64 2010.02,699.15 2001.51,707.66 1993.00,699.15" fill="none" stroke="#e78ac3" stroke-width="2.7"/><polygon points="2021.27,696.49 2029.78,705.00 2021.27,713.51 2012.76,705.00" fill="none" stroke="#e78ac3" stroke-width="2.7"/></g>
<text x="1624.60" y="163.75" font-size="34.4" fill="#000">w/v% of PF-127/H-HPMC</text>
<rect x="1647.10" y="185.10" width="12.30" height="12.30" fill="none" stroke="#66c2a5" stroke-width="2.7"/>
<text x="1685.33" y="202.50" font-size="34.4" fill="#000">10/2.5</text>
<circle cx="1653.25" cy="225.50" r="6.40" fill="none" stroke="#fc8d62" stroke-width="2.7"/>
<text x="1685.33" y="237.50" font-size="34.4" fill="#000">11/3</text>
<polygon points="1653.25,251.43 1660.08,264.79 1646.42,264.79" fill="none" stroke="#8da0cb" stroke-width="2.7" stroke-linejoin="miter"/>
<text x="1685.33" y="272.50" font-size="34.4" fill="#000">10/3</text>
<polygon points="1653.25,284.39 1661.86,293.00 1653.25,301.61 1644.64,293.00" fill="none" stroke="#e78ac3" stroke-width="2.7"/>
<text x="1685.30" y="307.00" font-size="34.4" fill="#000">9/3</text>
<polygon points="1653.25,335.82 1660.08,322.96 1646.42,322.96" fill="none" stroke="#a6d854" stroke-width="2.7" stroke-linejoin="miter"/>
<text x="1685.33" y="342.50" font-size="34.4" fill="#000">10/3.5</text>
<text x="40.76" y="966.88" font-size="44.8">(c)</text>
<rect x="145.5" y="917.7" width="903.20" height="769.20" fill="none" stroke="#666666" stroke-width="2"/>
<path d="M140.00,1178.20H145.5M140.00,1404.10H145.5M140.00,1629.00H145.5M254.50,1686.9V1692.40M391.50,1686.9V1692.40M665.50,1686.9V1692.40M939.50,1686.9V1692.40" stroke="#666666" stroke-width="2" fill="none"/>
<text x="78.82" y="1190.20" font-size="33.3">560</text>
<text x="78.82" y="1416.10" font-size="33.3">540</text>
<text x="78.82" y="1641.00" font-size="33.3">520</text>
<text x="245.33" y="1728.60" font-size="33.3" fill="#000">2</text>
<text x="382.08" y="1728.60" font-size="33.3" fill="#000">4</text>
<text x="656.23" y="1728.60" font-size="33.3" fill="#000">8</text>
<text x="920.60" y="1728.60" font-size="33.3" fill="#000">12</text>
<polyline points="254.50,1126.50 391.50,1287.30 665.50,1477.60 939.50,1634.40" fill="none" stroke="#66c2a5" stroke-width="3"/>
<polyline points="254.50,1075.90 391.50,1237.50 665.50,1424.30 939.50,1578.30" fill="none" stroke="#fc8d62" stroke-width="3"/>
<polyline points="254.50,1036.30 391.50,1199.80 665.50,1385.20 939.50,1536.00" fill="none" stroke="#8da0cb" stroke-width="3"/>
<polyline points="254.50,1005.80 391.50,1171.50 665.50,1354.20 939.50,1503.70" fill="none" stroke="#e78ac3" stroke-width="3"/>
<circle cx="254.50" cy="1126.50" r="9.5" fill="#66c2a5"/>
<circle cx="391.50" cy="1287.30" r="9.5" fill="#66c2a5"/>
<circle cx="665.50" cy="1477.60" r="9.5" fill="#66c2a5"/>
<circle cx="939.50" cy="1634.40" r="9.5" fill="#66c2a5"/>
<rect x="245.75" y="1067.15" width="17.5" height="17.5" fill="#fc8d62"/>
<rect x="382.75" y="1228.75" width="17.5" height="17.5" fill="#fc8d62"/>
<rect x="656.75" y="1415.55" width="17.5" height="17.5" fill="#fc8d62"/>
<rect x="930.75" y="1569.55" width="17.5" height="17.5" fill="#fc8d62"/>
<polygon points="254.50,1024.80 266.00,1036.30 254.50,1047.80 243.00,1036.30" fill="#8da0cb"/>
<polygon points="391.50,1188.30 403.00,1199.80 391.50,1211.30 380.00,1199.80" fill="#8da0cb"/>
<polygon points="665.50,1373.70 677.00,1385.20 665.50,1396.70 654.00,1385.20" fill="#8da0cb"/>
<polygon points="939.50,1524.50 951.00,1536.00 939.50,1547.50 928.00,1536.00" fill="#8da0cb"/>
<polygon points="254.50,995.05 266.25,1016.55 242.75,1016.55" fill="#e78ac3"/>
<polygon points="391.50,1160.75 403.25,1182.25 379.75,1182.25" fill="#e78ac3"/>
<polygon points="665.50,1343.45 677.25,1364.95 653.75,1364.95" fill="#e78ac3"/>
<polygon points="939.50,1492.95 951.25,1514.45 927.75,1514.45" fill="#e78ac3"/>
<text x="386.69" y="1768.30" font-size="34.5">Printing speed U/(mm·s</text>
<text x="773.72" y="1757.50" font-size="20">-1</text>
<text x="792.51" y="1768.30" font-size="34.5">)</text>
<text transform="translate(51.20,1471.51) rotate(-90)" x="0" y="0" font-size="34.9">Spray distance k/μm</text>
<text x="186.42" y="961.94" font-size="43.5">(i)</text>
<text x="306.14" y="1009.90" font-size="34.4" fill="#000">Angle (°)</text>
<line x1="472.50" y1="994.80" x2="502.50" y2="994.80" stroke="#66c2a5" stroke-width="3"/>
<circle cx="487.50" cy="994.80" r="9.5" fill="#66c2a5"/>
<text x="519.73" y="1009.90" font-size="34.4" fill="#000">65</text>
<line x1="573.90" y1="994.80" x2="603.90" y2="994.80" stroke="#fc8d62" stroke-width="3"/>
<rect x="580.15" y="986.05" width="17.5" height="17.5" fill="#fc8d62"/>
<text x="621.12" y="1009.90" font-size="34.4" fill="#000">70</text>
<line x1="675.40" y1="994.80" x2="705.40" y2="994.80" stroke="#8da0cb" stroke-width="3"/>
<polygon points="690.40,983.30 701.90,994.80 690.40,1006.30 678.90,994.80" fill="#8da0cb"/>
<text x="720.52" y="1009.90" font-size="34.4" fill="#000">75</text>
<line x1="776.70" y1="994.80" x2="806.70" y2="994.80" stroke="#e78ac3" stroke-width="3"/>
<polygon points="791.70,981.25 803.45,1002.75 779.95,1002.75" fill="#e78ac3"/>
<text x="823.90" y="1009.90" font-size="34.4" fill="#000">80</text>
<rect x="1178.7" y="917.7" width="902.70" height="769.20" fill="none" stroke="#666666" stroke-width="2"/>
<path d="M1173.20,1077.70H1178.7M1173.20,1326.90H1178.7M1173.20,1577.00H1178.7M1287.80,1686.9V1692.40M1424.60,1686.9V1692.40M1698.20,1686.9V1692.40M1971.80,1686.9V1692.40" stroke="#666666" stroke-width="2" fill="none"/>
<text x="1112.02" y="1089.70" font-size="33.3">550</text>
<text x="1112.02" y="1338.90" font-size="33.3">450</text>
<text x="1112.02" y="1589.00" font-size="33.3">350</text>
<text x="1278.63" y="1728.60" font-size="33.3" fill="#000">2</text>
<text x="1415.18" y="1728.60" font-size="33.3" fill="#000">4</text>
<text x="1688.93" y="1728.60" font-size="33.3" fill="#000">8</text>
<text x="1952.90" y="1728.60" font-size="33.3" fill="#000">12</text>
<polyline points="1287.80,1030.00 1424.60,1066.40 1698.20,1107.40 1971.80,1141.90" fill="none" stroke="#66c2a5" stroke-width="3"/>
<polyline points="1287.80,1238.80 1424.60,1235.30 1698.20,1245.00 1971.80,1261.70" fill="none" stroke="#fc8d62" stroke-width="3"/>
<polyline points="1287.80,1313.40 1424.60,1343.00 1698.20,1389.80 1971.80,1430.20" fill="none" stroke="#8da0cb" stroke-width="3"/>
<polyline points="1287.80,1398.70 1424.60,1428.30 1698.20,1493.00 1971.80,1552.20" fill="none" stroke="#e78ac3" stroke-width="3"/>
<polyline points="1287.80,1479.50 1424.60,1518.60 1698.20,1577.80 1971.80,1623.60" fill="none" stroke="#a6d854" stroke-width="3"/>
<circle cx="1287.80" cy="1030.00" r="9.5" fill="#66c2a5"/>
<circle cx="1424.60" cy="1066.40" r="9.5" fill="#66c2a5"/>
<circle cx="1698.20" cy="1107.40" r="9.5" fill="#66c2a5"/>
<circle cx="1971.80" cy="1141.90" r="9.5" fill="#66c2a5"/>
<rect x="1279.05" y="1230.05" width="17.5" height="17.5" fill="#fc8d62"/>
<rect x="1415.85" y="1226.55" width="17.5" height="17.5" fill="#fc8d62"/>
<rect x="1689.45" y="1236.25" width="17.5" height="17.5" fill="#fc8d62"/>
<rect x="1963.05" y="1252.95" width="17.5" height="17.5" fill="#fc8d62"/>
<polygon points="1287.80,1301.90 1299.30,1313.40 1287.80,1324.90 1276.30,1313.40" fill="#8da0cb"/>
<polygon points="1424.60,1331.50 1436.10,1343.00 1424.60,1354.50 1413.10,1343.00" fill="#8da0cb"/>
<polygon points="1698.20,1378.30 1709.70,1389.80 1698.20,1401.30 1686.70,1389.80" fill="#8da0cb"/>
<polygon points="1971.80,1418.70 1983.30,1430.20 1971.80,1441.70 1960.30,1430.20" fill="#8da0cb"/>
<polygon points="1287.80,1387.95 1299.55,1409.45 1276.05,1409.45" fill="#e78ac3"/>
<polygon points="1424.60,1417.55 1436.35,1439.05 1412.85,1439.05" fill="#e78ac3"/>
<polygon points="1698.20,1482.25 1709.95,1503.75 1686.45,1503.75" fill="#e78ac3"/>
<polygon points="1971.80,1541.45 1983.55,1562.95 1960.05,1562.95" fill="#e78ac3"/>
<polygon points="1287.80,1490.25 1299.55,1468.75 1276.05,1468.75" fill="#a6d854"/>
<polygon points="1424.60,1529.35 1436.35,1507.85 1412.85,1507.85" fill="#a6d854"/>
<polygon points="1698.20,1588.55 1709.95,1567.05 1686.45,1567.05" fill="#a6d854"/>
<polygon points="1971.80,1634.35 1983.55,1612.85 1960.05,1612.85" fill="#a6d854"/>
<text x="1422.89" y="1768.30" font-size="34.5">Printing speed U/(mm·s</text>
<text x="1809.92" y="1757.50" font-size="20">-1</text>
<text x="1828.71" y="1768.30" font-size="34.5">)</text>
<text transform="translate(1084.20,1464.71) rotate(-90)" x="0" y="0" font-size="34.9">Spray distance k/μm</text>
<text x="1214.23" y="961.94" font-size="43.5">(ii)</text>
<text x="1241.60" y="1007.20" font-size="34.4" fill="#000">w/v% of PF-127/H-HPMC</text>
<line x1="1657.50" y1="959.50" x2="1686.50" y2="959.50" stroke="#66c2a5" stroke-width="3"/>
<circle cx="1672.00" cy="959.50" r="9.5" fill="#66c2a5"/>
<text x="1706.13" y="970.80" font-size="34.4" fill="#000">10/2.5</text>
<line x1="1657.50" y1="995.00" x2="1686.50" y2="995.00" stroke="#fc8d62" stroke-width="3"/>
<rect x="1663.25" y="986.25" width="17.5" height="17.5" fill="#fc8d62"/>
<text x="1706.13" y="1006.40" font-size="34.4" fill="#000">11/3</text>
<line x1="1657.50" y1="1030.60" x2="1686.50" y2="1030.60" stroke="#8da0cb" stroke-width="3"/>
<polygon points="1672.00,1019.10 1683.50,1030.60 1672.00,1042.10 1660.50,1030.60" fill="#8da0cb"/>
<text x="1706.13" y="1042.20" font-size="34.4" fill="#000">10/3</text>
<line x1="1827.70" y1="959.50" x2="1856.70" y2="959.50" stroke="#e78ac3" stroke-width="3"/>
<polygon points="1842.20,946.75 1853.95,968.25 1830.45,968.25" fill="#e78ac3"/>
<text x="1876.80" y="970.80" font-size="34.4" fill="#000">9/3</text>
<line x1="1827.70" y1="995.00" x2="1856.70" y2="995.00" stroke="#a6d854" stroke-width="3"/>
<polygon points="1842.20,1007.75 1853.95,986.25 1830.45,986.25" fill="#a6d854"/>
<text x="1875.83" y="1006.40" font-size="34.4" fill="#000">10/3.5</text>
</svg></body></html>
